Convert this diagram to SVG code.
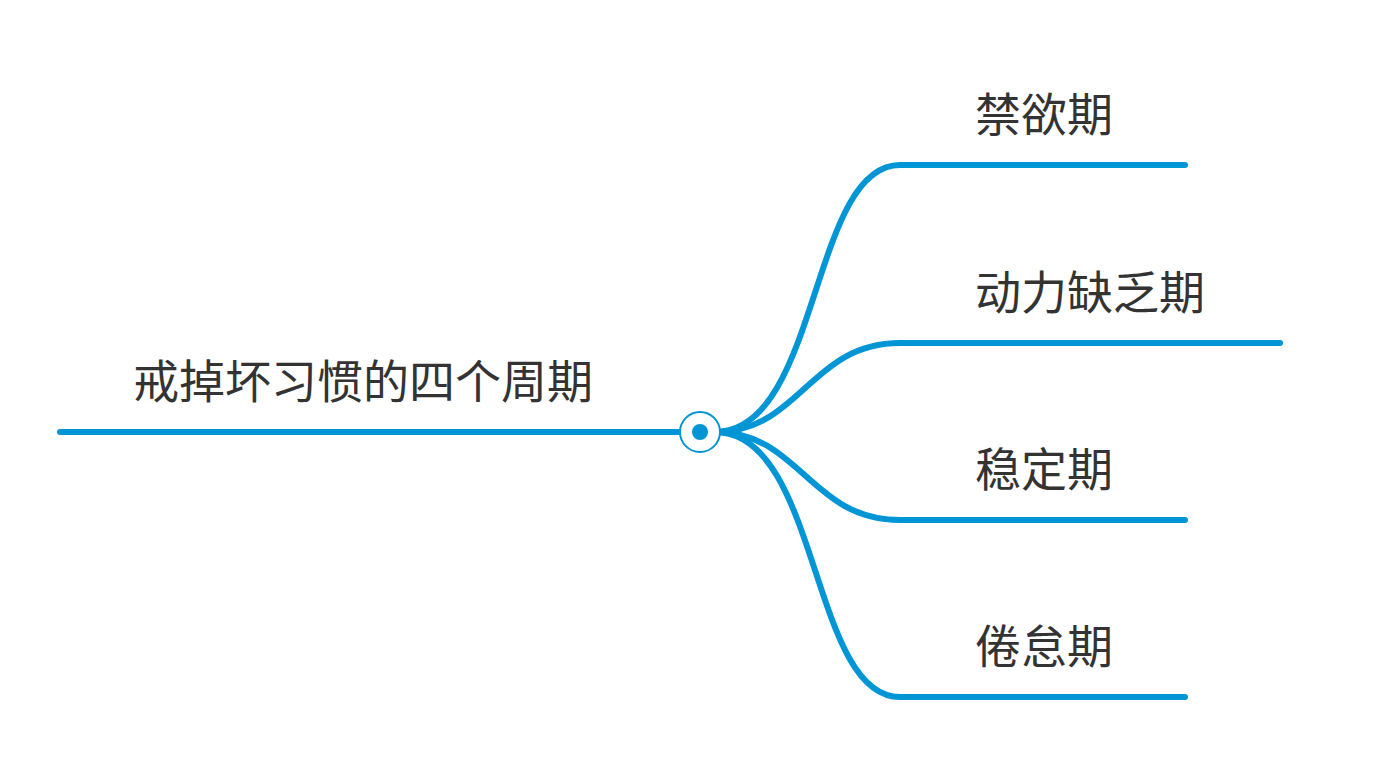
<svg xmlns="http://www.w3.org/2000/svg" width="1382" height="758" viewBox="0 0 1382 758">
<style>
.l{fill:none;stroke:#0096d6;stroke-width:6;stroke-linecap:round}
.t{font-family:"Noto Sans CJK SC","Noto Sans",sans-serif;font-size:46px;fill:#333}
</style>
<rect width="1382" height="758" fill="#fff"/>
<g id="connectors">
<path class="l" d="M60,432 H690"/>
<path class="l" d="M715,432 C820,432 810,165 900,165 H1185"/>
<path class="l" d="M715,432 C800,432 810,343 900,343 H1280"/>
<path class="l" d="M715,432 C800,432 810,520 900,520 H1185"/>
<path class="l" d="M715,432 C820,432 810,697 900,697 H1185"/>
</g>
<g id="root">
<text class="t" x="133" y="398">戒掉坏习惯的四个周期</text>
<circle cx="700" cy="432" r="20" fill="#fff" stroke="#0096d6" stroke-width="2"/>
<circle cx="700" cy="432" r="8" fill="#0096d6"/>
</g>
<g id="n1"><text class="t" x="975" y="131">禁欲期</text></g>
<g id="n2"><text class="t" x="975" y="309">动力缺乏期</text></g>
<g id="n3"><text class="t" x="975" y="486">稳定期</text></g>
<g id="n4"><text class="t" x="975" y="663">倦怠期</text></g>
</svg>
